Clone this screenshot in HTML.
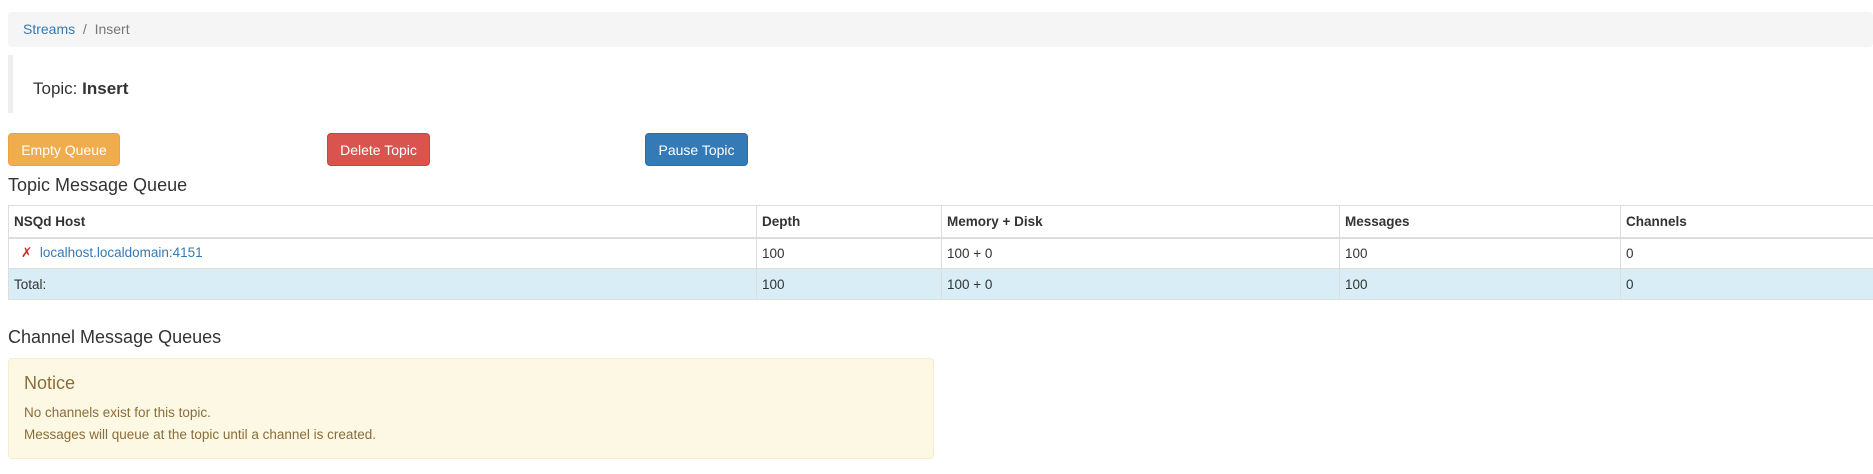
<!DOCTYPE html>
<html><head><meta charset="utf-8"><style>
*{box-sizing:border-box;margin:0;padding:0}
body{width:1873px;height:474px;background:#fff;font-family:"Liberation Sans",Arial,sans-serif;font-size:14px;color:#333;position:relative;overflow:hidden}
.a{position:absolute}
.bc{left:8px;top:12px;width:1865px;height:35px;background:#f5f5f5;border-radius:4px;padding-left:15px;line-height:35px}
.bc a{color:#337ab7}.bc span{color:#777}
.bq{left:8px;top:55px;height:58px;border-left:5px solid #eee;padding-left:20px;padding-top:5px;line-height:58px;font-size:17px}
.btn{top:133px;height:33px;line-height:33px;color:#fff;text-align:center;border-radius:4px;font-size:14px}
h4{font-weight:normal;font-size:18px;position:absolute;left:8px}
table{position:absolute;left:8px;top:205px;width:1866px;border-collapse:collapse}
td,th{border:1px solid #ddd;height:31px;padding:0 5px;text-align:left;font-size:13.5px;vertical-align:middle}
th{border-bottom:2px solid #ddd;height:32px}
.info td{background:#d9edf7}
.nt{left:8px;top:358px;width:926px;height:101px;background:#fcf8e3;border:1px solid #faebcc;border-radius:4px;color:#8a6d3b;padding:13px 15px;font-size:13.5px;line-height:22px}
</style></head><body>
<div class="a bc"><a>Streams</a> <span>&nbsp;/&nbsp; Insert</span></div>
<div class="a bq">Topic: <b>Insert</b></div>
<div class="a btn" style="left:8px;width:112px;background:#f0ad4e;border:1px solid #eea236">Empty Queue</div>
<div class="a btn" style="left:327px;width:103px;background:#d9534f;border:1px solid #d43f3a">Delete Topic</div>
<div class="a btn" style="left:645px;width:103px;background:#337ab7;border:1px solid #2e6da4">Pause Topic</div>
<h4 style="top:175px">Topic Message Queue</h4>
<table>
<colgroup><col style="width:748px"><col style="width:185px"><col style="width:398px"><col style="width:281px"><col></colgroup>
<tr><th>NSQd Host</th><th>Depth</th><th>Memory + Disk</th><th>Messages</th><th>Channels</th></tr>
<tr><td style="padding-left:12px"><span style="color:#c9302c">✗</span>&nbsp; <span style="color:#337ab7">localhost.localdomain:4151</span></td><td>100</td><td>100 + 0</td><td>100</td><td>0</td></tr>
<tr class="info"><td>Total:</td><td>100</td><td>100 + 0</td><td>100</td><td>0</td></tr>
</table>
<h4 style="top:327px">Channel Message Queues</h4>
<div class="a nt"><div style="font-size:18px;margin-bottom:8px">Notice</div>No channels exist for this topic.<br>Messages will queue at the topic until a channel is created.</div>
</body></html>
